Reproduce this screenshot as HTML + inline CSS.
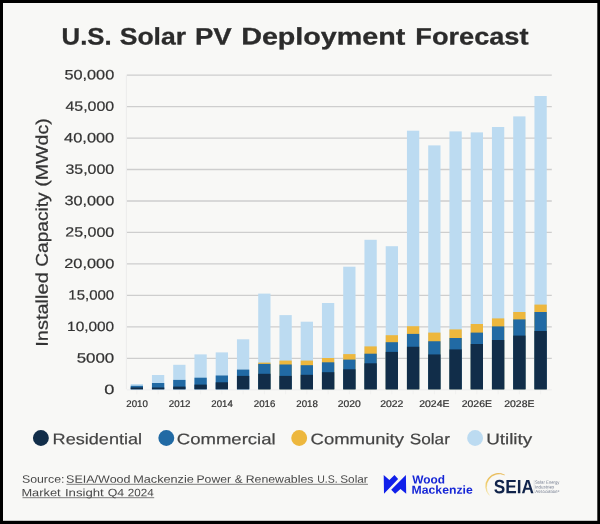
<!DOCTYPE html>
<html lang="en">
<head>
<meta charset="utf-8">
<title>U.S. Solar PV Deployment Forecast</title>
<style>
html,body{margin:0;padding:0;background:#000;}
body{width:600px;height:524px;overflow:hidden;}
svg{display:block;}
text{font-family:"Liberation Sans",sans-serif;text-rendering:geometricPrecision;}
</style>
</head>
<body>
<svg width="600" height="524" viewBox="0 0 600 524">
<defs>
<linearGradient id="sun" x1="0" y1="0" x2="0" y2="1"><stop offset="0" stop-color="#e6b243"/><stop offset="0.55" stop-color="#f0d070"/><stop offset="1" stop-color="#f6eab8"/></linearGradient>
</defs>
<rect x="0" y="0" width="600" height="524" fill="#000"/>
<rect x="3" y="3" width="594.3" height="517.8" fill="#f8f8f6"/>
<g font-weight="bold" font-size="23.8" fill="#2b2b2b" stroke="#2b2b2b" stroke-width="0.3">
<text x="61.61" y="44.5" textLength="50.02" lengthAdjust="spacingAndGlyphs" transform="rotate(0.1 86.5 44.5)">U.S.</text>
<text x="119.69" y="44.5" textLength="66.37" lengthAdjust="spacingAndGlyphs" transform="rotate(0.1 153.1 44.5)">Solar</text>
<text x="195.01" y="44.5" textLength="36.73" lengthAdjust="spacingAndGlyphs" transform="rotate(0.1 214.2 44.5)">PV</text>
<text x="241.23" y="44.5" textLength="164.07" lengthAdjust="spacingAndGlyphs" transform="rotate(0.1 324.1 44.5)">Deployment</text>
<text x="415.33" y="44.5" textLength="113.15" lengthAdjust="spacingAndGlyphs" transform="rotate(0.1 472.6 44.5)">Forecast</text>
</g>
<g stroke="#cecece" stroke-width="1.3">
<line x1="126.8" y1="389.80" x2="551.8" y2="389.80" stroke="#efefef"/>
<line x1="126.8" y1="358.33" x2="551.8" y2="358.33"/>
<line x1="126.8" y1="326.86" x2="551.8" y2="326.86"/>
<line x1="126.8" y1="295.39" x2="551.8" y2="295.39"/>
<line x1="126.8" y1="263.92" x2="551.8" y2="263.92"/>
<line x1="126.8" y1="232.45" x2="551.8" y2="232.45"/>
<line x1="126.8" y1="200.98" x2="551.8" y2="200.98"/>
<line x1="126.8" y1="169.51" x2="551.8" y2="169.51"/>
<line x1="126.8" y1="138.04" x2="551.8" y2="138.04"/>
<line x1="126.8" y1="106.57" x2="551.8" y2="106.57"/>
<line x1="126.8" y1="75.10" x2="551.8" y2="75.10"/>
</g>
<line x1="126.4" y1="75.1" x2="126.4" y2="389.3" stroke="#ebebeb" stroke-width="1"/>
<g stroke="#f0f0ef" stroke-width="1">
<line x1="136.85" y1="389.3" x2="136.85" y2="394.3"/>
<line x1="158.10" y1="389.3" x2="158.10" y2="394.3"/>
<line x1="179.35" y1="389.3" x2="179.35" y2="394.3"/>
<line x1="200.60" y1="389.3" x2="200.60" y2="394.3"/>
<line x1="221.85" y1="389.3" x2="221.85" y2="394.3"/>
<line x1="243.10" y1="389.3" x2="243.10" y2="394.3"/>
<line x1="264.35" y1="389.3" x2="264.35" y2="394.3"/>
<line x1="285.60" y1="389.3" x2="285.60" y2="394.3"/>
<line x1="306.85" y1="389.3" x2="306.85" y2="394.3"/>
<line x1="328.10" y1="389.3" x2="328.10" y2="394.3"/>
<line x1="349.35" y1="389.3" x2="349.35" y2="394.3"/>
<line x1="370.60" y1="389.3" x2="370.60" y2="394.3"/>
<line x1="391.85" y1="389.3" x2="391.85" y2="394.3"/>
<line x1="413.10" y1="389.3" x2="413.10" y2="394.3"/>
<line x1="434.35" y1="389.3" x2="434.35" y2="394.3"/>
<line x1="455.60" y1="389.3" x2="455.60" y2="394.3"/>
<line x1="476.85" y1="389.3" x2="476.85" y2="394.3"/>
<line x1="498.10" y1="389.3" x2="498.10" y2="394.3"/>
<line x1="519.35" y1="389.3" x2="519.35" y2="394.3"/>
<line x1="540.60" y1="389.3" x2="540.60" y2="394.3"/>
</g>
<g font-size="13.4" fill="#333333" stroke="#333333" stroke-width="0.2">
<text x="104.19" y="394.02" textLength="10.12" lengthAdjust="spacingAndGlyphs" transform="rotate(0.1 109.2 394.02)">0</text>
<text x="76.72" y="362.54" textLength="37.53" lengthAdjust="spacingAndGlyphs" transform="rotate(0.1 95.5 362.54)">5000</text>
<text x="67.13" y="331.07" textLength="47.07" lengthAdjust="spacingAndGlyphs" transform="rotate(0.1 91.0 331.07)">10,000</text>
<text x="68.36" y="299.59" textLength="45.83" lengthAdjust="spacingAndGlyphs" transform="rotate(0.1 91.6 299.59)">15,000</text>
<text x="64.28" y="268.12" textLength="49.96" lengthAdjust="spacingAndGlyphs" transform="rotate(0.1 89.3 268.12)">20,000</text>
<text x="65.30" y="236.64" textLength="48.93" lengthAdjust="spacingAndGlyphs" transform="rotate(0.1 89.8 236.64)">25,000</text>
<text x="64.48" y="205.17" textLength="49.75" lengthAdjust="spacingAndGlyphs" transform="rotate(0.1 89.3 205.17)">30,000</text>
<text x="65.49" y="173.69" textLength="48.73" lengthAdjust="spacingAndGlyphs" transform="rotate(0.1 89.8 173.69)">35,000</text>
<text x="64.12" y="142.22" textLength="50.12" lengthAdjust="spacingAndGlyphs" transform="rotate(0.1 89.1 142.22)">40,000</text>
<text x="65.43" y="110.74" textLength="48.79" lengthAdjust="spacingAndGlyphs" transform="rotate(0.1 89.7 110.74)">45,000</text>
<text x="64.45" y="79.27" textLength="49.79" lengthAdjust="spacingAndGlyphs" transform="rotate(0.1 89.3 79.27)">50,000</text>
</g>
<g transform="translate(47.7 345.1) rotate(-89.95)" font-size="17" fill="#333333" stroke="#333333" stroke-width="0.25">
<text x="-1.73" y="0" textLength="74.60" lengthAdjust="spacingAndGlyphs">Installed</text>
<text x="78.35" y="0" textLength="74.37" lengthAdjust="spacingAndGlyphs">Capacity</text>
<text x="158.30" y="0" textLength="68.59" lengthAdjust="spacingAndGlyphs">(MWdc)</text>
</g>
<g>
<rect x="130.70" y="384.10" width="12.3" height="5.20" fill="#bcdbf1"/>
<rect x="130.70" y="385.80" width="12.3" height="3.50" fill="#216aa4"/>
<rect x="130.70" y="387.40" width="12.3" height="1.90" fill="#112d49"/>
</g>
<g>
<rect x="151.95" y="375.00" width="12.3" height="14.30" fill="#bcdbf1"/>
<rect x="151.95" y="383.00" width="12.3" height="6.30" fill="#216aa4"/>
<rect x="151.95" y="387.50" width="12.3" height="1.80" fill="#112d49"/>
</g>
<g>
<rect x="173.20" y="364.80" width="12.3" height="24.50" fill="#bcdbf1"/>
<rect x="173.20" y="379.90" width="12.3" height="9.40" fill="#216aa4"/>
<rect x="173.20" y="386.60" width="12.3" height="2.70" fill="#112d49"/>
</g>
<g>
<rect x="194.45" y="354.40" width="12.3" height="34.90" fill="#bcdbf1"/>
<rect x="194.45" y="377.70" width="12.3" height="11.60" fill="#216aa4"/>
<rect x="194.45" y="384.60" width="12.3" height="4.70" fill="#112d49"/>
</g>
<g>
<rect x="215.70" y="352.40" width="12.3" height="36.90" fill="#bcdbf1"/>
<rect x="215.70" y="375.50" width="12.3" height="13.80" fill="#216aa4"/>
<rect x="215.70" y="382.30" width="12.3" height="7.00" fill="#112d49"/>
</g>
<g>
<rect x="236.95" y="339.30" width="12.3" height="50.00" fill="#bcdbf1"/>
<rect x="236.95" y="369.60" width="12.3" height="19.70" fill="#216aa4"/>
<rect x="236.95" y="375.90" width="12.3" height="13.40" fill="#112d49"/>
</g>
<g>
<rect x="258.20" y="293.60" width="12.3" height="95.70" fill="#bcdbf1"/>
<rect x="258.20" y="362.60" width="12.3" height="26.70" fill="#edb73d"/>
<rect x="258.20" y="363.90" width="12.3" height="25.40" fill="#216aa4"/>
<rect x="258.20" y="373.80" width="12.3" height="15.50" fill="#112d49"/>
</g>
<g>
<rect x="279.45" y="315.10" width="12.3" height="74.20" fill="#bcdbf1"/>
<rect x="279.45" y="360.60" width="12.3" height="28.70" fill="#edb73d"/>
<rect x="279.45" y="364.50" width="12.3" height="24.80" fill="#216aa4"/>
<rect x="279.45" y="375.90" width="12.3" height="13.40" fill="#112d49"/>
</g>
<g>
<rect x="300.70" y="321.70" width="12.3" height="67.60" fill="#bcdbf1"/>
<rect x="300.70" y="360.60" width="12.3" height="28.70" fill="#edb73d"/>
<rect x="300.70" y="365.20" width="12.3" height="24.10" fill="#216aa4"/>
<rect x="300.70" y="374.80" width="12.3" height="14.50" fill="#112d49"/>
</g>
<g>
<rect x="321.95" y="303.00" width="12.3" height="86.30" fill="#bcdbf1"/>
<rect x="321.95" y="358.00" width="12.3" height="31.30" fill="#edb73d"/>
<rect x="321.95" y="362.30" width="12.3" height="27.00" fill="#216aa4"/>
<rect x="321.95" y="372.20" width="12.3" height="17.10" fill="#112d49"/>
</g>
<g>
<rect x="343.20" y="266.70" width="12.3" height="122.60" fill="#bcdbf1"/>
<rect x="343.20" y="354.10" width="12.3" height="35.20" fill="#edb73d"/>
<rect x="343.20" y="359.60" width="12.3" height="29.70" fill="#216aa4"/>
<rect x="343.20" y="369.30" width="12.3" height="20.00" fill="#112d49"/>
</g>
<g>
<rect x="364.45" y="239.80" width="12.3" height="149.50" fill="#bcdbf1"/>
<rect x="364.45" y="346.40" width="12.3" height="42.90" fill="#edb73d"/>
<rect x="364.45" y="353.70" width="12.3" height="35.60" fill="#216aa4"/>
<rect x="364.45" y="363.30" width="12.3" height="26.00" fill="#112d49"/>
</g>
<g>
<rect x="385.70" y="246.20" width="12.3" height="143.10" fill="#bcdbf1"/>
<rect x="385.70" y="335.20" width="12.3" height="54.10" fill="#edb73d"/>
<rect x="385.70" y="342.20" width="12.3" height="47.10" fill="#216aa4"/>
<rect x="385.70" y="351.90" width="12.3" height="37.40" fill="#112d49"/>
</g>
<g>
<rect x="406.95" y="130.70" width="12.3" height="258.60" fill="#bcdbf1"/>
<rect x="406.95" y="326.20" width="12.3" height="63.10" fill="#edb73d"/>
<rect x="406.95" y="333.90" width="12.3" height="55.40" fill="#216aa4"/>
<rect x="406.95" y="346.75" width="12.3" height="42.55" fill="#112d49"/>
</g>
<g>
<rect x="428.20" y="145.40" width="12.3" height="243.90" fill="#bcdbf1"/>
<rect x="428.20" y="332.60" width="12.3" height="56.70" fill="#edb73d"/>
<rect x="428.20" y="341.25" width="12.3" height="48.05" fill="#216aa4"/>
<rect x="428.20" y="354.45" width="12.3" height="34.85" fill="#112d49"/>
</g>
<g>
<rect x="449.45" y="131.40" width="12.3" height="257.90" fill="#bcdbf1"/>
<rect x="449.45" y="329.40" width="12.3" height="59.90" fill="#edb73d"/>
<rect x="449.45" y="338.00" width="12.3" height="51.30" fill="#216aa4"/>
<rect x="449.45" y="349.40" width="12.3" height="39.90" fill="#112d49"/>
</g>
<g>
<rect x="470.70" y="132.40" width="12.3" height="256.90" fill="#bcdbf1"/>
<rect x="470.70" y="324.00" width="12.3" height="65.30" fill="#edb73d"/>
<rect x="470.70" y="332.60" width="12.3" height="56.70" fill="#216aa4"/>
<rect x="470.70" y="344.00" width="12.3" height="45.30" fill="#112d49"/>
</g>
<g>
<rect x="491.95" y="127.00" width="12.3" height="262.30" fill="#bcdbf1"/>
<rect x="491.95" y="318.40" width="12.3" height="70.90" fill="#edb73d"/>
<rect x="491.95" y="326.40" width="12.3" height="62.90" fill="#216aa4"/>
<rect x="491.95" y="340.00" width="12.3" height="49.30" fill="#112d49"/>
</g>
<g>
<rect x="513.20" y="116.40" width="12.3" height="272.90" fill="#bcdbf1"/>
<rect x="513.20" y="312.00" width="12.3" height="77.30" fill="#edb73d"/>
<rect x="513.20" y="319.40" width="12.3" height="69.90" fill="#216aa4"/>
<rect x="513.20" y="335.60" width="12.3" height="53.70" fill="#112d49"/>
</g>
<g>
<rect x="534.45" y="96.00" width="12.3" height="293.30" fill="#bcdbf1"/>
<rect x="534.45" y="304.60" width="12.3" height="84.70" fill="#edb73d"/>
<rect x="534.45" y="312.00" width="12.3" height="77.30" fill="#216aa4"/>
<rect x="534.45" y="331.00" width="12.3" height="58.30" fill="#112d49"/>
</g>
<g font-size="9.7" fill="#333333" stroke="#333333" stroke-width="0.22">
<text x="126.32" y="407.1" textLength="21.55" lengthAdjust="spacingAndGlyphs" transform="rotate(0.1 137.2 407.1)">2010</text>
<text x="168.82" y="407.1" textLength="21.66" lengthAdjust="spacingAndGlyphs" transform="rotate(0.1 179.7 407.1)">2012</text>
<text x="211.33" y="407.1" textLength="21.45" lengthAdjust="spacingAndGlyphs" transform="rotate(0.1 222.2 407.1)">2014</text>
<text x="253.82" y="407.1" textLength="21.59" lengthAdjust="spacingAndGlyphs" transform="rotate(0.1 264.6 407.1)">2016</text>
<text x="296.32" y="407.1" textLength="21.59" lengthAdjust="spacingAndGlyphs" transform="rotate(0.1 307.1 407.1)">2018</text>
<text x="337.79" y="407.1" textLength="23.00" lengthAdjust="spacingAndGlyphs" transform="rotate(0.1 349.3 407.1)">2020</text>
<text x="380.29" y="407.1" textLength="23.13" lengthAdjust="spacingAndGlyphs" transform="rotate(0.1 391.8 407.1)">2022</text>
<text x="419.24" y="407.1" textLength="30.15" lengthAdjust="spacingAndGlyphs" transform="rotate(0.1 434.3 407.1)">2024E</text>
<text x="461.74" y="407.1" textLength="30.15" lengthAdjust="spacingAndGlyphs" transform="rotate(0.1 476.8 407.1)">2026E</text>
<text x="504.24" y="407.1" textLength="30.15" lengthAdjust="spacingAndGlyphs" transform="rotate(0.1 519.4 407.1)">2028E</text>
</g>
<g font-size="15.4" fill="#444444" stroke="#444444" stroke-width="0.2">
<circle cx="40.9" cy="438.0" r="7.95" fill="#112d49" stroke="none"/>
<text x="52.62" y="444.3" textLength="89.49" lengthAdjust="spacingAndGlyphs" transform="rotate(0.1 97.5 444.3)">Residential</text>
<circle cx="166.3" cy="438.0" r="7.95" fill="#216aa4" stroke="none"/>
<text x="176.76" y="444.3" textLength="98.88" lengthAdjust="spacingAndGlyphs" transform="rotate(0.1 226.1 444.3)">Commercial</text>
<circle cx="299.2" cy="438.0" r="7.95" fill="#edb73d" stroke="none"/>
<text x="310.56" y="444.3" textLength="93.37" lengthAdjust="spacingAndGlyphs" transform="rotate(0.1 357.7 444.3)">Community</text>
<text x="409.82" y="444.3" textLength="40.06" lengthAdjust="spacingAndGlyphs" transform="rotate(0.1 430.1 444.3)">Solar</text>
<circle cx="475.1" cy="438.0" r="7.95" fill="#bcdbf1" stroke="none"/>
<text x="486.15" y="444.3" textLength="46.09" lengthAdjust="spacingAndGlyphs" transform="rotate(0.1 509.9 444.3)">Utility</text>
</g>
<g font-size="10.7" fill="#484848">
<text x="21.94" y="482.8" textLength="42.49" lengthAdjust="spacingAndGlyphs" transform="rotate(0.1 42.9 482.8)">Source:</text>
<text x="66.13" y="482.8" textLength="64.37" lengthAdjust="spacingAndGlyphs" transform="rotate(0.1 98.2 482.8)">SEIA/Wood</text>
<text x="133.16" y="482.8" textLength="60.71" lengthAdjust="spacingAndGlyphs" transform="rotate(0.1 163.8 482.8)">Mackenzie</text>
<text x="196.50" y="482.8" textLength="34.50" lengthAdjust="spacingAndGlyphs" transform="rotate(0.1 214.2 482.8)">Power</text>
<text x="234.89" y="482.8" textLength="7.79" lengthAdjust="spacingAndGlyphs" transform="rotate(0.1 238.9 482.8)">&amp;</text>
<text x="245.69" y="482.8" textLength="67.75" lengthAdjust="spacingAndGlyphs" transform="rotate(0.1 279.9 482.8)">Renewables</text>
<text x="317.19" y="482.8" textLength="20.47" lengthAdjust="spacingAndGlyphs" transform="rotate(0.1 327.4 482.8)">U.S.</text>
<text x="340.27" y="482.8" textLength="27.43" lengthAdjust="spacingAndGlyphs" transform="rotate(0.1 354.1 482.8)">Solar</text>
<text x="21.45" y="496.3" textLength="39.14" lengthAdjust="spacingAndGlyphs" transform="rotate(0.1 41.5 496.3)">Market</text>
<text x="64.98" y="496.3" textLength="38.81" lengthAdjust="spacingAndGlyphs" transform="rotate(0.1 85.0 496.3)">Insight</text>
<text x="107.72" y="496.3" textLength="16.45" lengthAdjust="spacingAndGlyphs" transform="rotate(0.1 116.0 496.3)">Q4</text>
<text x="127.71" y="496.3" textLength="25.93" lengthAdjust="spacingAndGlyphs" transform="rotate(0.1 140.8 496.3)">2024</text>
</g>
<g stroke="#555555" stroke-width="0.75">
<line x1="66.5" y1="484.3" x2="368" y2="484.3"/>
<line x1="22.5" y1="497.7" x2="154.2" y2="497.7"/>
</g>
<g fill="#1120ea">
<polygon points="383.7,475.1 389.4,479.9 394.5,475.1 398.1,479 384,493.7"/>
<polygon points="405.9,475.1 406.2,493.7 400.5,488.9 395.1,493.7 391.2,489.8"/>
<g font-weight="bold" font-size="11.6" fill="#1626d6">
<text x="412.39" y="483.5" textLength="32.69" lengthAdjust="spacingAndGlyphs" transform="rotate(0.1 428.4 483.5)">Wood</text>
<text x="411.58" y="493.8" textLength="61.14" lengthAdjust="spacingAndGlyphs" transform="rotate(0.1 442.4 493.8)">Mackenzie</text>
</g></g>
<path d="M504.6 474.9 A12.85 12.85 0 0 0 489.5 495.4 A13.1 13.1 0 0 1 504.6 474.9 Z" fill="url(#sun)" stroke="url(#sun)" stroke-width="0.5" stroke-linejoin="round"/>
<g font-weight="bold" font-size="19.4" fill="#10234a">
<text x="493.70" y="493.2" textLength="40.15" lengthAdjust="spacingAndGlyphs" transform="rotate(0.1 513.8 493.2)">SEIA</text>
</g>
<line x1="534.2" y1="480" x2="534.2" y2="493" stroke="#b4bac6" stroke-width="0.4"/>
<g font-size="4.5" fill="#6f788c">
<text x="535.01" y="483.8" textLength="24.40" lengthAdjust="spacingAndGlyphs" transform="rotate(0.1 547.3 483.8)">Solar Energy</text>
<text x="534.79" y="488.5" textLength="19.37" lengthAdjust="spacingAndGlyphs" transform="rotate(0.1 544.6 488.5)">Industries</text>
<text x="535.19" y="493.1" textLength="22.29" lengthAdjust="spacingAndGlyphs" transform="rotate(0.1 546.2 493.1)">Association</text>
<text x="557.4" y="491.6" font-size="2.6">®</text>
</g>
</svg>
</body>
</html>
